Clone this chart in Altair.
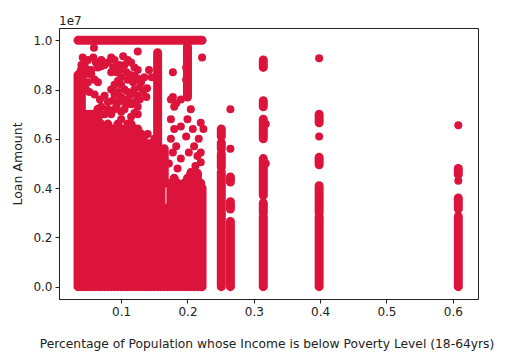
import altair as alt
import pandas as pd

# ---------------- data (loan amounts in dollars) ----------------
# dense block: poverty share columns and the top of the solid mass of loans
dense_x = [0.035, 0.040, 0.045, 0.050, 0.055, 0.060, 0.065, 0.070, 0.075, 0.080,
           0.085, 0.090, 0.095, 0.100, 0.105, 0.110, 0.115, 0.120, 0.125, 0.130,
           0.135, 0.140, 0.145, 0.150, 0.155, 0.160, 0.165, 0.170, 0.175, 0.180,
           0.185, 0.190, 0.195, 0.200, 0.205, 0.210, 0.215, 0.220, 0.222]
dense_top = [8.6e6, 8.8e6, 7.0e6, 7.0e6, 7.0e6, 7.0e6, 7.2e6, 6.6e6, 6.4e6, 6.6e6,
             6.4e6, 6.4e6, 6.6e6, 6.4e6, 6.2e6, 6.6e6, 6.6e6, 6.4e6, 6.4e6, 6.2e6,
             5.8e6, 5.8e6, 5.8e6, 5.6e6, 5.2e6, 5.0e6, 3.0e6, 3.2e6, 4.2e6, 4.4e6,
             4.2e6, 4.0e6, 4.2e6, 4.4e6, 4.6e6, 4.4e6, 4.6e6, 4.2e6, 4.0e6]

# other runs of stacked loans (x, lowest, highest)
run_x = [0.155, 0.165, 0.200,
         0.251, 0.251, 0.251, 0.251,
         0.2647, 0.2647, 0.2647,
         0.3143, 0.3143, 0.3143, 0.3143, 0.3143, 0.3143,
         0.3985, 0.3985, 0.3985, 0.3985,
         0.6083, 0.6083, 0.6083]
run_lo = [5.2e6, 4.2e6, 7.7e6,
          0.0, 4.85e6, 5.6e6, 6.1e6,
          0.0, 3.15e6, 4.25e6,
          0.0, 3.0e6, 3.7e6, 6.0e6, 7.3e6, 8.9e6,
          0.0, 3.0e6, 4.95e6, 6.65e6,
          0.0, 3.15e6, 4.55e6]
run_hi = [9.5e6, 5.6e6, 9.75e6,
          4.65e6, 5.4e6, 5.85e6, 6.4e6,
          2.65e6, 3.45e6, 4.45e6,
          2.85e6, 3.4e6, 5.2e6, 6.8e6, 7.55e6, 9.2e6,
          2.85e6, 4.1e6, 5.25e6, 7.0e6,
          2.85e6, 3.6e6, 4.8e6]

# loans capped at the maximum amount
cap_from = [0.035]
cap_to = [0.222]
cap_amount = [1.0e7]

# individual loans
pt_x = [0.059, 0.125, 0.200, 0.222, 0.062, 0.070, 0.090, 0.103, 0.115, 0.125,
        0.085, 0.095, 0.110, 0.120, 0.130, 0.139, 0.065, 0.055, 0.075, 0.085,
        0.070, 0.095, 0.110, 0.125, 0.105, 0.120, 0.100, 0.115, 0.125,
        0.135, 0.148, 0.140, 0.150,
        0.045, 0.050, 0.055, 0.075, 0.085, 0.097, 0.110, 0.120, 0.100, 0.135,
        0.060, 0.047, 0.050, 0.052, 0.060, 0.090, 0.100, 0.115, 0.120, 0.075,
        0.080, 0.085, 0.090, 0.108, 0.040, 0.042, 0.068, 0.080,
        0.045, 0.050, 0.058, 0.065, 0.070, 0.080, 0.088, 0.093, 0.098, 0.105,
        0.108, 0.113, 0.118, 0.125, 0.128, 0.133, 0.138, 0.090, 0.100, 0.105,
        0.110, 0.095, 0.087, 0.093, 0.100, 0.105, 0.115, 0.120, 0.125, 0.128,
        0.070, 0.142, 0.146,
        0.178, 0.175, 0.183, 0.175, 0.180, 0.175, 0.183, 0.178, 0.190, 0.172,
        0.185, 0.205, 0.200, 0.208, 0.198, 0.210, 0.202, 0.215, 0.220, 0.224,
        0.217, 0.220, 0.220, 0.205, 0.212, 0.190, 0.178, 0.190, 0.180, 0.198,
        0.198,
        0.2647, 0.2647, 0.3985, 0.3985, 0.6083, 0.6083, 0.318, 0.318]
pt_y = [9.7e6, 9.55e6, 9.6e6, 9.3e6, 9.1e6, 8.95e6, 9.2e6, 9.35e6, 9.1e6, 8.8e6,
        8.7e6, 8.35e6, 8.4e6, 8.55e6, 8.3e6, 8.05e6, 8.3e6, 8.6e6, 7.75e6, 8.0e6,
        7.3e6, 7.5e6, 7.6e6, 7.75e6, 7.2e6, 7.05e6, 6.8e6, 6.9e6, 7.0e6,
        6.1e6, 5.85e6, 6.2e6, 6.0e6,
        9.0e6, 9.2e6, 8.8e6, 9.0e6, 9.3e6, 9.0e6, 9.2e6, 8.9e6, 8.5e6, 8.5e6,
        8.4e6, 8.0e6, 8.3e6, 7.9e6, 7.8e6, 7.8e6, 7.7e6, 7.8e6, 8.0e6, 7.0e6,
        7.2e6, 7.0e6, 7.2e6, 7.4e6, 9.0e6, 9.3e6, 7.6e6, 7.5e6,
        8.6e6, 8.8e6, 9.3e6, 8.9e6, 9.2e6, 9.1e6, 8.9e6, 8.7e6, 8.8e6, 9.0e6,
        8.7e6, 8.6e6, 8.3e6, 8.45e6, 8.1e6, 7.9e6, 7.7e6, 8.2e6, 8.2e6, 8.0e6,
        7.9e6, 7.9e6, 7.55e6, 7.3e6, 7.1e6, 7.5e6, 7.4e6, 7.5e6, 7.3e6, 7.6e6,
        7.0e6, 8.8e6, 8.5e6,
        8.7e6, 7.6e6, 7.45e6, 6.8e6, 6.4e6, 6.0e6, 5.7e6, 5.45e6, 5.2e6, 5.0e6,
        4.8e6, 7.2e6, 6.8e6, 6.4e6, 6.1e6, 5.7e6, 5.45e6, 5.3e6, 6.65e6, 6.4e6,
        6.0e6, 5.45e6, 5.05e6, 4.65e6, 4.9e6, 6.5e6, 7.7e6, 7.6e6, 7.3e6, 8.9e6,
        8.4e6,
        7.2e6, 5.6e6, 9.27e6, 6.1e6, 6.55e6, 4.3e6, 6.6e6, 5.0e6]

# ---------------- tables ----------------
runs = pd.DataFrame({
    "x": dense_x + run_x,
    "lo": [0.0] * len(dense_x) + run_lo,
    "hi": dense_top + run_hi,
})
caps = pd.DataFrame({"x": cap_from, "x2": cap_to, "y": cap_amount})
pts = pd.DataFrame({"x": pt_x, "y": pt_y})
offset_txt = pd.DataFrame({"t": ["1e7"]})

RED = "#DC143C"
FONT = "DejaVu Sans"

xscale = alt.Scale(domain=[0.0063, 0.638], nice=False, zero=False)
yscale = alt.Scale(domain=[-0.05e7, 1.05e7], nice=False, zero=False)

xaxis = alt.Axis(values=[0.1, 0.2, 0.3, 0.4, 0.5, 0.6], format=".1f",
                 title="Percentage of Population whose Income is below Poverty Level (18-64yrs)",
                 titlePadding=20, titleX=207.5, titleFontSize=12.3)
yaxis = alt.Axis(values=[0, 2e6, 4e6, 6e6, 8e6, 1e7],
                 labelExpr="format(datum.value / 1e7, '.1f')",
                 title="Loan Amount", titlePadding=8)

vruns = alt.Chart(runs).mark_rule(color=RED, strokeWidth=9, strokeCap="round").encode(
    x=alt.X("x:Q", scale=xscale, axis=xaxis),
    y=alt.Y("lo:Q", scale=yscale, axis=yaxis),
    y2="hi:Q",
)
hruns = alt.Chart(caps).mark_rule(color=RED, strokeWidth=9, strokeCap="round").encode(
    x=alt.X("x:Q", scale=xscale),
    x2="x2:Q",
    y=alt.Y("y:Q", scale=yscale),
)
dots = alt.Chart(pts).mark_circle(color=RED, size=64, opacity=1).encode(
    x=alt.X("x:Q", scale=xscale),
    y=alt.Y("y:Q", scale=yscale),
)
offset = alt.Chart(offset_txt).mark_text(align="left", baseline="alphabetic",
                                         font=FONT, fontSize=12, color="#222").encode(
    x=alt.value(0), y=alt.value(-3), text="t:N")

chart = alt.layer(vruns, hruns, dots, offset).properties(
    width=419, height=271,
    autosize=alt.AutoSizeParams(type="none"),
    padding={"left": 51, "top": 20, "right": 20, "bottom": 56},
).configure_view(
    stroke="#222", strokeWidth=1
).configure_axis(
    grid=False, domainColor="#222", tickColor="#222", tickSize=4,
    labelPadding=3, labelFont=FONT, labelFontSize=12, labelColor="#222",
    titleFont=FONT, titleFontSize=12.5, titleFontWeight="normal", titleColor="#222",
)

chart.save("out.html", embed_options={"renderer": "svg", "actions": False})
